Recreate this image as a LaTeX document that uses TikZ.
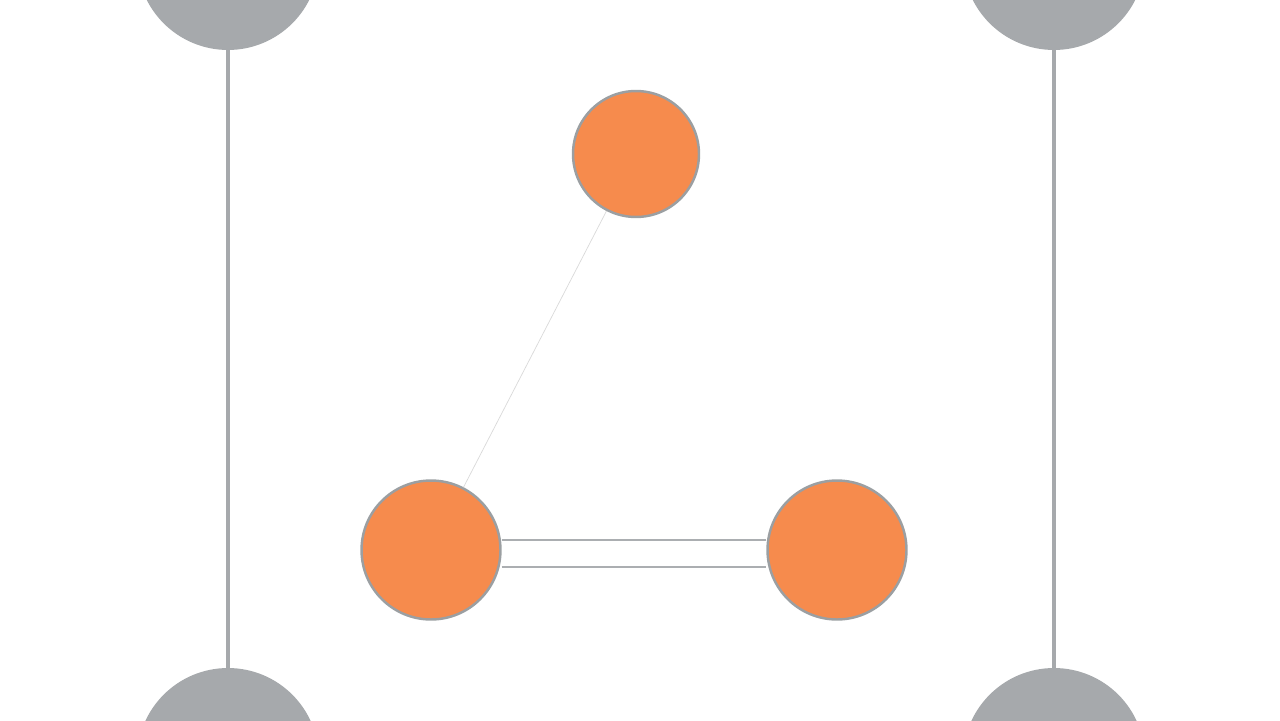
\documentclass[tikz,border=0pt]{standalone}
\usepackage{tikz}
\usetikzlibrary{arrows,shapes,positioning}
\definecolor{dotorange}{HTML}{F68B4D}
\definecolor{dotgray}{HTML}{A6A9AC}
\definecolor{rimgray}{HTML}{9B9FA2}
\definecolor{bondgray}{HTML}{ABAEB1}
\begin{document}
\begin{tikzpicture}[x=0.02cm,y=-0.02cm]
                \tikzstyle{every node}+=[inner sep=0pt]
                \tikzstyle{corner}=[circle, fill=dotgray, minimum size=3.64cm]
                \tikzstyle{atom}=[circle, fill=dotorange, draw=rimgray, line width=1.4pt]
                \tikzstyle{rail}=[dotgray, line width=2.3pt]
                \tikzstyle{bond}=[bondgray, line width=1pt]
                \useasboundingbox (0,0) rectangle (1280,720);
                % grey corner dots
                \node [corner] (tl) at (228,-41) {};
                \node [corner] (tr) at (1054,-41) {};
                \node [corner] (bl) at (228,759) {};
                \node [corner] (br) at (1054,759) {};
                \draw [rail] (tl) -- (bl);
                \draw [rail] (tr) -- (br);
                % orange dots
                \node [atom, minimum size=2.52cm] (top) at (636,154) {};
                \node [atom, minimum size=2.78cm] (left) at (431,550) {};
                \node [atom, minimum size=2.78cm] (right) at (837,550) {};
                \draw [black!15, line width=0.4pt] (top) -- (left);
                \foreach \dy in {0.2,-0.34}
                    \draw [bond] ([yshift=\dy cm]left.east) -- ([yshift=\dy cm]right.west);
\end{tikzpicture}
\end{document}
